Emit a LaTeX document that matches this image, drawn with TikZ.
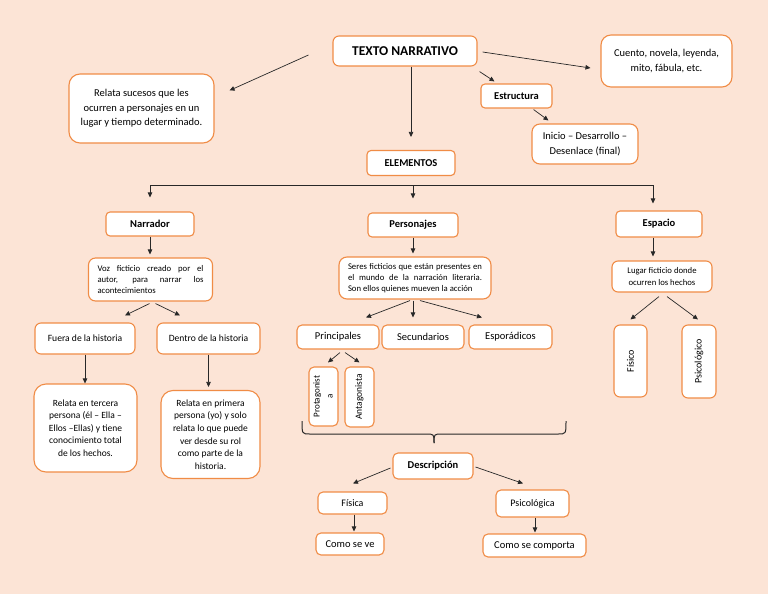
\documentclass[tikz,border=0pt]{standalone}
\usepackage{fontspec}
\setmainfont{Carlito}
\usepackage{graphicx}
\usetikzlibrary{arrows.meta,calc}
\definecolor{bg}{RGB}{252,228,214}
\definecolor{bord}{RGB}{240,140,70}
\definecolor{ln}{RGB}{40,40,40}
\begin{document}
\begin{tikzpicture}[x=1pt,y=-1pt,
 box/.style={draw=bord, fill=white, line width=1.1pt, rounded corners=4pt, inner sep=2pt, align=center},
 arr/.style={-{Triangle[length=5pt,width=4.5pt]}, line width=0.7pt, draw=ln},
 plain/.style={line width=0.8pt, draw=ln},
 ften/.style={font=\fontsize{10.5}{15}\selectfont},
 fnine/.style={font=\fontsize{9.5}{12.6}\selectfont},
 fbold/.style={font=\fontsize{10.5}{12}\selectfont\bfseries},
 feight/.style={font=\fontsize{8.7}{10.8}\selectfont}]

\fill[bg] (0,0) rectangle (768,594);
\useasboundingbox (0,0) rectangle (768,594);

% top level
\node[box, minimum width=144pt, minimum height=30pt, rounded corners=6pt, font=\fontsize{13.5}{15}\selectfont\bfseries] (texto) at (405,51) {TEXTO NARRATIVO};
\node[box, ften, minimum width=145pt, minimum height=69pt, rounded corners=11pt, font=\fontsize{10.5}{14.5}\selectfont] (relata) at (141.5,108.5) {Relata sucesos que les\\ocurren a personajes en un\\lugar y tiempo determinado.};
\node[box, ften, minimum width=131pt, minimum height=52pt, rounded corners=10pt, font=\fontsize{10.5}{14.5}\selectfont] (cuento) at (666.5,61) {Cuento, novela, leyenda,\\mito, fábula, etc.};
\node[box, fbold, minimum width=71pt, minimum height=24pt] (estructura) at (516.5,96) {Estructura};
\node[box, ften, minimum width=106pt, minimum height=40pt, rounded corners=8pt] (inicio) at (585,144) {Inicio – Desarrollo –\\Desenlace (final)};
\node[box, fbold, minimum width=88pt, minimum height=25pt] (elementos) at (411,163) {ELEMENTOS};

% second level
\node[box, fbold, minimum width=88pt, minimum height=24pt] (narrador) at (150,224) {Narrador};
\node[box, fbold, minimum width=90pt, minimum height=24pt] (personajes) at (413,225) {Personajes};
\node[box, fbold, minimum width=86pt, minimum height=26pt] (espacio) at (659,224) {Espacio};

% narrador branch
\node[box, feight, text width=106pt, align=justify, minimum height=43pt, inner xsep=9pt, rounded corners=7pt] (voz) at (150.5,279.5) {Voz ficticio creado por el\linebreak autor, para narrar los\linebreak acontecimientos};
\node[box, font=\fontsize{9.6}{12}\selectfont, minimum width=100pt, minimum height=31pt, rounded corners=6pt] (fuera) at (85,338.5) {Fuera de la historia};
\node[box, font=\fontsize{9.6}{12}\selectfont, minimum width=103pt, minimum height=31pt, rounded corners=6pt] (dentro) at (208.5,338.5) {Dentro de la historia};
\node[box, fnine, minimum width=103pt, minimum height=88pt, rounded corners=12pt] (tercera) at (85.5,428) {Relata en tercera\\persona (él – Ella –\\Ellos –Ellas) y tiene\\conocimiento total\\de los hechos.};
\node[box, fnine, minimum width=99pt, minimum height=88pt, rounded corners=12pt] (primera) at (210.5,434.5) {Relata en primera\\persona (yo) y solo\\relata lo que puede\\ver desde su rol\\como parte de la\\historia.};

% personajes branch
\node[box, feight, text width=134pt, align=justify, minimum height=42pt, inner xsep=9pt, rounded corners=8pt] (seres) at (415,278) {Seres ficticios que están presentes en\linebreak el mundo de la narración literaria.\linebreak Son ellos quienes mueven la acción};
\node[box, ften, minimum width=82pt, minimum height=24pt, rounded corners=5pt] (principales) at (338,337) {Principales};
\node[box, ften, minimum width=82pt, minimum height=24pt, rounded corners=5pt] (secundarios) at (423,337) {Secundarios};
\node[box, ften, minimum width=83pt, minimum height=24pt, rounded corners=5pt] (esporadicos) at (510.5,337) {Esporádicos};
\node[box, font=\fontsize{9}{13}\selectfont, minimum width=29pt, minimum height=59pt, inner sep=0pt, rounded corners=5pt] (protag) at (323.5,396.5) {\rotatebox{90}{\begin{tabular}{@{}c@{}}Protagonist\\a\end{tabular}}};
\node[box, font=\fontsize{9.5}{11}\selectfont, minimum width=29pt, minimum height=60pt, inner sep=0pt, rounded corners=5pt] (antag) at (359.5,397) {\rotatebox{90}{Antagonista}};

% espacio branch
\node[box, font=\fontsize{8.7}{11.7}\selectfont, minimum width=100pt, minimum height=31pt, rounded corners=6pt] (lugar) at (662,276.5) {Lugar ficticio donde\\ocurren los hechos};
\node[box, font=\fontsize{10}{12}\selectfont, minimum width=33pt, minimum height=72pt, inner sep=0pt, rounded corners=6pt] (fisico) at (630.5,361) {\rotatebox{90}{Físico}};
\node[box, font=\fontsize{10}{12}\selectfont, minimum width=34pt, minimum height=73pt, inner sep=0pt, rounded corners=6pt] (psico) at (699,361.5) {\rotatebox{90}{Psicológico}};

% descripcion
\node[box, fbold, minimum width=80pt, minimum height=26pt, rounded corners=5pt] (descripcion) at (433,466) {Descripción};
\node[box, font=\fontsize{10}{12}\selectfont, minimum width=69pt, minimum height=22pt, rounded corners=5pt] (fisica) at (352.5,503) {Física};
\node[box, font=\fontsize{10}{12}\selectfont, minimum width=73pt, minimum height=27pt, rounded corners=5pt] (psicologica) at (532.5,503.5) {Psicológica};
\node[box, ften, minimum width=68pt, minimum height=22pt, rounded corners=5pt] (comove) at (350,544) {Como se ve};
\node[box, ften, minimum width=103pt, minimum height=23pt, rounded corners=5pt] (comporta) at (534.5,545.5) {Como se comporta};

% connectors: top
\draw[arr] ($(texto.west)+(-24,4)$) -- ($(relata.north east)+(15,17)$);
\draw[arr] ($(texto.east)+(5,1)$) -- ($(cuento.west)+(-10,7)$);
\draw[arr] ($(texto.south east)+(2,5)$) -- ($(estructura.north west)+(14,-2)$);
\draw[arr] ($(estructura.south east)+(-19,1)$) -- ($(inicio.north west)+(17,-3)$);
\draw[arr] (elementos.north |- texto.south) -- ($(elementos.north)+(0,-13)$);

% branch from ELEMENTOS
\coordinate (br) at ($(elementos.south)+(0,9)$);
\coordinate (espx) at ($(espacio.north)+(-6,0)$);
\draw[plain] (br -| narrador.north) -- (br -| espx);
\draw[arr] (br -| narrador.north) -- ($(narrador.north)+(0,-14)$);
\draw[arr] (br -| personajes.north) -- ($(personajes.north)+(0,-14)$);
\draw[arr] (br -| espx) -- ($(espx)+(0,-7)$);

% narrador
\draw[arr] (narrador.south) -- ($(voz.north)+(-0.5,-3)$);
\draw[arr] ($(voz.south)+(-1,2)$) -- ($(fuera.north)+(40,-7)$);
\draw[arr] ($(voz.south)+(5,2)$) -- ($(dentro.north)+(-28.5,-7)$);
\draw[arr] (fuera.south) -- ($(tercera.north)+(-0.5,0)$);
\draw[arr] (dentro.south) -- ($(dentro.south |- primera.north)+(0,-3)$);

% personajes
\draw[arr] (personajes.south) -- ($(seres.north)+(-2,-3)$);
\draw[arr] ($(seres.south)+(-5,1)$) -- ($(principales.north)+(28,-7)$);
\draw[arr] ($(seres.south)+(-2,1)$) -- ($(secundarios.north)+(-10,-7)$);
\draw[arr] ($(seres.south)+(5,1)$) -- ($(esporadicos.north)+(-28.5,-7)$);
\draw[arr] ($(principales.south)+(2,3)$) -- ($(protag.north)+(4.5,-4)$);
\draw[arr] ($(principales.south)+(7,3)$) -- ($(antag.north)+(0,-4)$);

% espacio
\draw[arr] (espx |- espacio.south) -- ($(espx |- lugar.north)+(0,-4)$);
\draw[arr] ($(lugar.south)+(-3,4)$) -- ($(fisico.north)+(0,-5)$);
\draw[arr] ($(lugar.south)+(5,4)$) -- ($(psico.north)+(-1,-5)$);

% brace
\draw[line width=1pt, draw=ln] (302,421) .. controls (302,434) .. (310,434) -- (426,434) .. controls (434,434) .. (434,443);
\draw[line width=1pt, draw=ln] (434,443) .. controls (434,434) .. (442,434) -- (558,434) .. controls (566,434) .. (566,421);

% descripcion
\draw[arr] ($(descripcion.west)+(-2,2)$) -- ($(fisica.north)+(0.5,-8)$);
\draw[arr] ($(descripcion.east)+(2,1)$) -- ($(psicologica.north)+(-9.5,-6)$);
\draw[arr] ($(fisica.south)+(1.5,0)$) -- ($(fisica.south |- comove.north)+(1.5,-1)$);
\draw[arr] ($(psicologica.south)+(2.5,0)$) -- ($(psicologica.south |- comporta.north)+(2.5,-1)$);
\end{tikzpicture}
\end{document}
